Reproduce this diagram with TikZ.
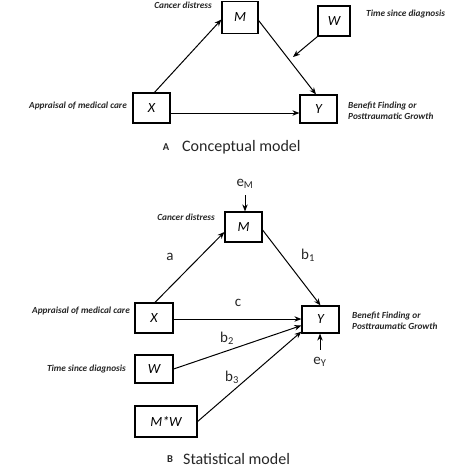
\documentclass[tikz,border=0pt]{standalone}
\usepackage{fontspec}
\setmainfont{Carlito}
\usetikzlibrary{arrows.meta}
\begin{document}
\begin{tikzpicture}[x=1pt,y=-1pt,
  box/.style={draw, line width=1.2pt, inner sep=0pt, font=\fontsize{14}{16}\selectfont\itshape},
  lab/.style={font=\fontsize{9.3}{11}\selectfont\bfseries\itshape, inner sep=0pt, text=black!85},
  coef/.style={font=\fontsize{15}{17}\selectfont, inner sep=0pt, text=black!85},
  arr/.style={-{Stealth[length=7pt,width=5.5pt]}, line width=1pt},
  captxt/.style={font=\fontsize{16}{19}\selectfont, inner sep=0pt, text=black!85},
  capl/.style={font=\fontsize{10.5}{12}\selectfont\bfseries, inner sep=0pt, text=black!85}]
\useasboundingbox (0,0) rectangle (474,474);
% ---------- Panel A ----------
\node[box, minimum width=36pt, minimum height=32pt] (Ma) at (240,17.5) {M};
\node[box, minimum width=32pt, minimum height=30pt] (Wa) at (334,21) {W};
\node[box, minimum width=37pt, minimum height=30pt] (Xa) at (151.5,108) {X};
\node[box, minimum width=37pt, minimum height=28pt] (Ya) at (318.5,109) {Y};
\node[lab, anchor=east] (cda) at (212,5) {Cancer distress};
\node[lab, anchor=west] (tsa) at (366,14) {Time since diagnosis};
\node[lab, anchor=east] (apa) at (127,106) {Appraisal of medical care};
\node[lab, anchor=west, align=left] (bfa) at (348,110.5) {Benefit Finding or\\Posttraumatic Growth};
\draw[arr] ([xshift=3pt]Xa.north) -- ([yshift=-2pt]Ma.west);
\draw[arr] ([yshift=-3pt]Ma.east) -- ([xshift=-2.5pt]Ya.north);
\draw[arr] ([yshift=-5pt]Xa.east) -- ([yshift=-5pt]Xa.east -| Ya.west);
\coordinate (wend) at (293,57);
\draw[arr] (Wa.south west) -- (wend);
\node[capl] (la) at (166,147.5) {A};
\node[captxt, anchor=west] (ca) at (182,147) {Conceptual model};
% ---------- Panel B ----------
\node[coef] (eM) at (245,184) {e\textsubscript{M}};
\node[box, minimum width=37pt, minimum height=30pt] (Mb) at (243.5,227) {M};
\node[box, minimum width=38pt, minimum height=30pt] (Xb) at (154,318) {X};
\node[box, minimum width=37pt, minimum height=27pt] (Yb) at (320.5,319.5) {Y};
\node[box, minimum width=38pt, minimum height=28pt] (Wb) at (154,369) {W};
\node[box, minimum width=62pt, minimum height=31pt] (MWb) at (166,421.5) {M*W};
\node[coef] (eY) at (320,362) {e\textsubscript{Y}};
\node[lab, anchor=east] (cdb) at (215,217) {Cancer distress};
\node[lab, anchor=east] (apb) at (130,311) {Appraisal of medical care};
\node[lab, anchor=west, align=left] (bfb) at (352,321) {Benefit Finding or\\Posttraumatic Growth};
\node[lab, anchor=east] (tsb) at (126,369) {Time since diagnosis};
\coordinate (eMt) at (245,195);
\coordinate (eYt) at (320,349.5);
\draw[arr] (eMt) -- (eMt |- Mb.north);
\draw[arr] (eYt) -- (eYt |- Yb.south);
\draw[arr] ([xshift=1pt]Xb.north) -- ([yshift=-5pt]Mb.west);
\draw[arr] ([yshift=-3pt]Mb.east) -- (Yb.north);
\draw[arr] ([yshift=-1pt]Xb.east) -- ([yshift=-1pt]Xb.east -| Yb.west);
\draw[arr] (Wb.east) -- ([yshift=-6pt]Yb.west);
\draw[arr] (MWb.east) -- ([yshift=2pt]Yb.south west);
\node[coef] (ka) at (170,257) {a};
\node[coef] (kb1) at (308,255) {b\textsubscript{1}};
\node[coef] (kc) at (238,303) {c};
\node[coef] (kb2) at (227,338) {b\textsubscript{2}};
\node[coef] (kb3) at (232,377) {b\textsubscript{3}};
\node[capl] (lb) at (170,459.5) {B};
\node[captxt, anchor=west] (cb) at (183,459) {Statistical model};
\end{tikzpicture}
\end{document}
